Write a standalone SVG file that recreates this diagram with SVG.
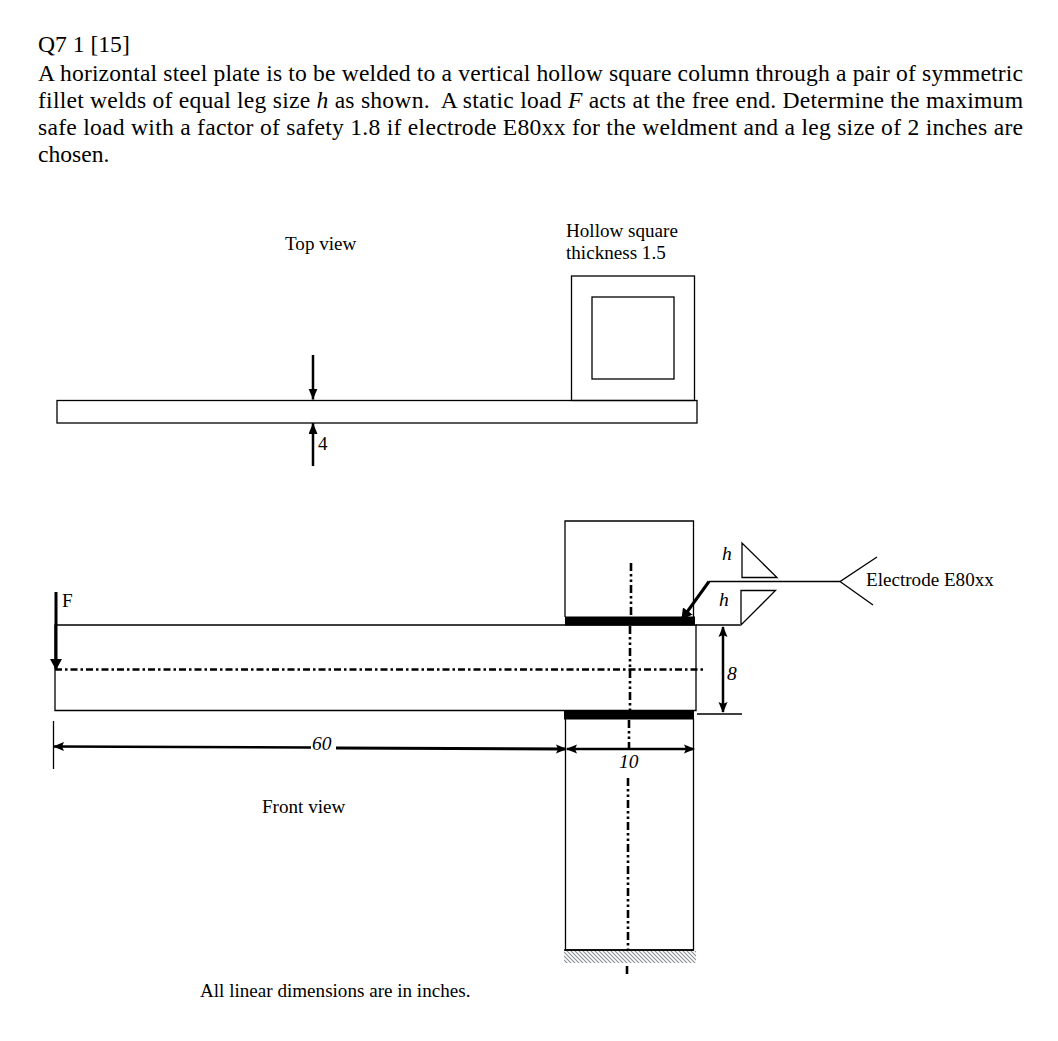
<svg xmlns="http://www.w3.org/2000/svg" width="1058" height="1041" viewBox="0 0 1058 1041">
<style>
text{font-family:"Liberation Serif","Times New Roman",serif;fill:#000}
.b{font-size:23.6px;white-space:pre}
.s{font-size:19.1px}
.n{font-size:19.5px;font-style:italic}
.i{font-style:italic}
.o{fill:none;stroke:#000;stroke-width:1.3}
.c{fill:none;stroke:#000;stroke-width:2.400;stroke-dasharray:7 3 2.500 3}
.v{fill:none;stroke:#000;stroke-width:2.600;stroke-dasharray:8 3 2.500 3 2.500 3}
.d{fill:none;stroke:#000;stroke-width:2.500}
.w{fill:#000}
</style>
<defs>
<marker id="ah" markerUnits="userSpaceOnUse" markerWidth="13" markerHeight="12" refX="10" refY="5.500" orient="auto-start-reverse"><path d="M0 1L11 5.500L0 10L2 5.500Z" fill="#000"/></marker>
<marker id="at" markerUnits="userSpaceOnUse" markerWidth="13" markerHeight="11" refX="11" refY="4.500" orient="auto"><path d="M0 0L11 4.500L0 9Z" fill="#000"/></marker>
<marker id="ahb" markerUnits="userSpaceOnUse" markerWidth="14" markerHeight="14" refX="10" refY="6" orient="auto"><path d="M0 0L11 6L0 12Z" fill="#000"/></marker>
<pattern id="hatch" width="4" height="4" patternUnits="userSpaceOnUse"><rect width="4" height="4" fill="#fff"/><path d="M0 0L4 4M-1 3L1 5M3 -1L5 1" stroke="#8a8f96" stroke-width="1.100"/></pattern>
</defs>
<rect width="1058" height="1041" fill="#fff"/>
<g id="problem-text">
<text class="b" x="38" y="51.500">Q7 1 [15]</text>
<text class="b" x="38" y="80.500" textLength="985">A horizontal steel plate is to be welded to a vertical hollow square column through a pair of symmetric</text>
<text class="b" x="38" y="107.500" textLength="985">fillet welds of equal leg size <tspan class="i">h</tspan> as shown.  A static load <tspan class="i">F</tspan> acts at the free end. Determine the maximum</text>
<text class="b" x="38" y="134.500" textLength="985">safe load with a factor of safety 1.8 if electrode E80xx for the weldment and a leg size of 2 inches are</text>
<text class="b" x="38" y="161.500">chosen.</text>
</g>
<g id="top-view">
<text class="s" x="285" y="249.500">Top view</text>
<text class="s" x="566" y="236.500">Hollow square</text>
<text class="s" x="566" y="258.500">thickness 1.5</text>
<rect class="o" x="571.500" y="276" width="123" height="124.500"/>
<rect class="o" x="592" y="297" width="82" height="82"/>
<rect class="o" x="57" y="400.500" width="640" height="22.500"/>
</g>
<g id="column">
<path class="o" d="M565 617V521H693.500V617"/>
<path class="o" d="M565.500 719V950H693.500V719"/>
<path fill="url(#hatch)" d="M564 951H696V963H564Z"/>
<path d="M564 950H694" stroke="#000" stroke-width="1.500"/>
</g>
<g id="plate">
<path class="o" d="M55 625H696V710.500H55Z"/>
</g>
<g id="welds">
<rect class="w" x="565" y="616.500" width="130" height="9"/>
<rect class="w" x="564" y="710.500" width="130" height="9"/>
</g>
<g id="connectors">
<path class="d" d="M313 355V399.500" marker-end="url(#at)"/>
<path class="d" d="M313 466V423" marker-end="url(#at)"/>
<path class="c" d="M55 669.500H705"/>
<path class="v" d="M631 563V617"/>
<path class="v" d="M630 626V710"/>
<path class="v" d="M629 720V748"/>
<path class="v" d="M628 778V950"/>
<path class="v" d="M627 966V976"/>
<path d="M56 592V669" fill="none" stroke="#000" stroke-width="3" marker-end="url(#ahb)"/>
<path class="o" d="M53.500 721V769"/>
<path class="d" d="M54 746.500L311 747.500" marker-start="url(#ah)"/>
<path d="M336 748L566 749" fill="none" stroke="#000" stroke-width="3" marker-end="url(#ah)"/>
<path class="d" d="M567 749H694" marker-start="url(#ah)" marker-end="url(#ah)"/>
<path class="d" d="M723 627V712" marker-start="url(#ah)" marker-end="url(#ah)"/>
<path class="o" d="M696 625H740"/>
<path class="o" d="M697 714H742"/>
<path class="o" d="M709 581.500H840L877 557M840 581.500L873 605"/>
<path d="M709 581.500L682 619" fill="none" stroke="#000" stroke-width="3" marker-end="url(#ahb)"/>
</g>
<g id="weld-symbols">
<path class="o" d="M742 543V577.500H777Z"/>
<path class="o" d="M741 590.500H775.500L741 625Z"/>
<text class="n" x="722" y="560">h</text>
<text class="n" x="719" y="606">h</text>
</g>
<g id="labels">
<text class="s" x="62" y="607">F</text>
<text class="s" x="318" y="450">4</text>
<text class="n" x="727" y="680">8</text>
<text class="n" x="312" y="750">60</text>
<text class="n" x="619" y="768">10</text>
<text class="s" x="262" y="813">Front view</text>
<text class="s" x="866" y="586">Electrode E80xx</text>
<text class="s" x="200" y="997">All linear dimensions are in inches.</text>
</g>
</svg>
